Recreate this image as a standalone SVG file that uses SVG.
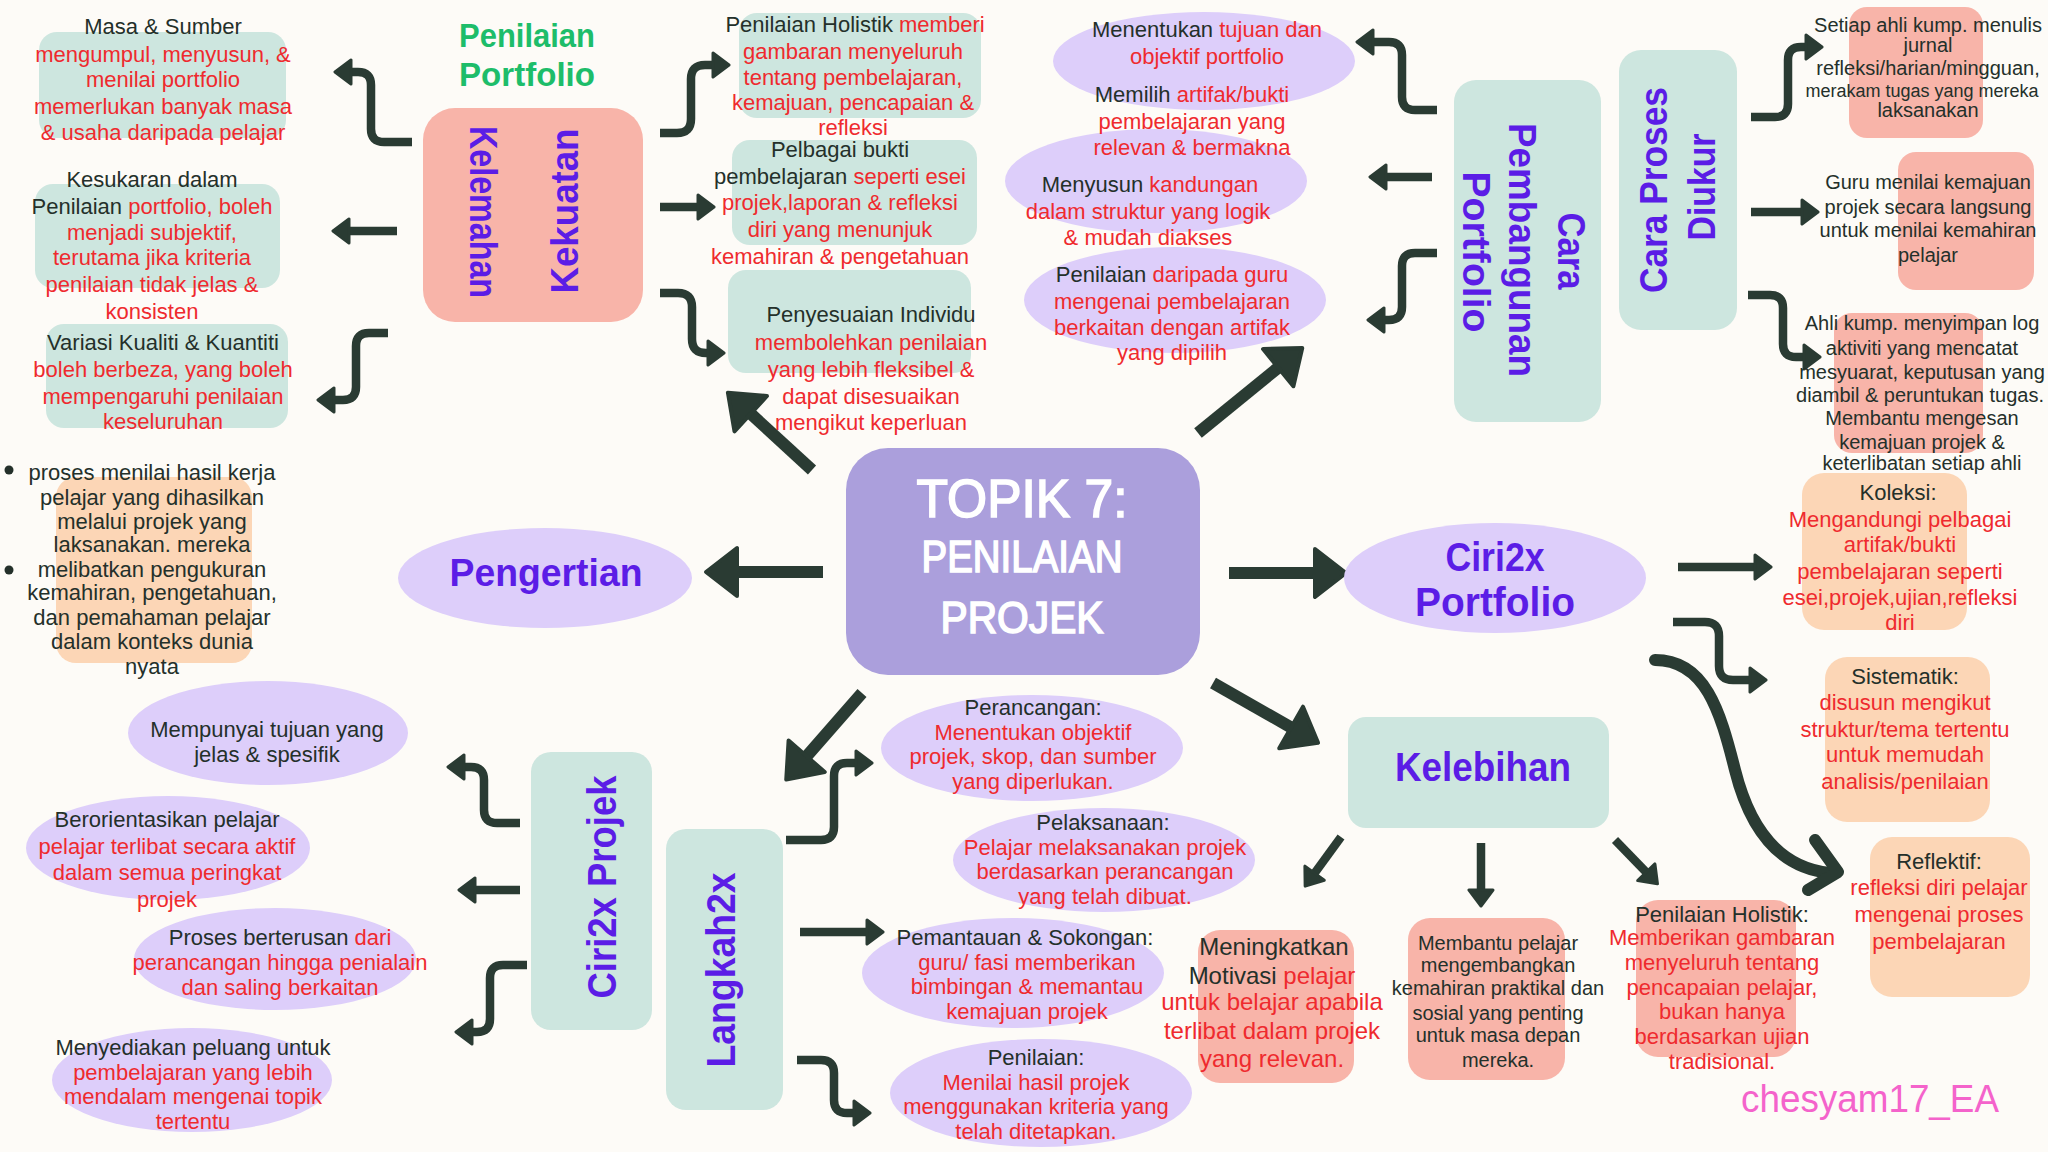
<svg xmlns="http://www.w3.org/2000/svg" width="2048" height="1152" viewBox="0 0 2048 1152">
<defs>
<style>
.t{font-family:"Liberation Sans",Arial,sans-serif;font-size:22px;text-anchor:middle}
.s18{font-size:18px}
.s20{font-size:20px}
.s24{font-size:24px}
.d{fill:#24302A}
.r{fill:#EF2A2E}
.p{font-family:"Liberation Sans",Arial,sans-serif;font-weight:bold;fill:#5B1DE6;text-anchor:middle}
.g{fill:#CDE6DF}
.k{fill:#F8B4A9}
.o{fill:#FCD6B6}
.v{fill:#DDCEFA}
.w{font-family:"Liberation Sans",Arial,sans-serif;fill:#FFFFFF;stroke:#FFFFFF;stroke-width:1.6;text-anchor:middle}
.c{fill:none;stroke:#2A3B33;stroke-width:8.5;stroke-linejoin:round}
.cb{fill:none;stroke:#2A3B33;stroke-width:12;stroke-linejoin:round}
</style>
<marker id="ah" viewBox="0 0 20 28" refX="3" refY="14" markerWidth="20" markerHeight="28" markerUnits="userSpaceOnUse" orient="auto"><path d="M2,2 L18,14 L2,26 Z" fill="#2A3B33" stroke="#2A3B33" stroke-width="3" stroke-linejoin="round"/></marker>
<marker id="ahb" viewBox="0 0 38 54" refX="4" refY="27" markerWidth="38" markerHeight="54" markerUnits="userSpaceOnUse" orient="auto"><path d="M3,3 L34,27 L3,51 Z" fill="#2A3B33" stroke="#2A3B33" stroke-width="4" stroke-linejoin="round"/></marker>
</defs>
<rect x="0" y="0" width="2048" height="1152" fill="#FDFBF7"/>

<g id="connectors">
<path class="c" marker-end="url(#ah)" d="M412,142 H384 Q371,142 371,129 V85 Q371,72 358,72 H350"/>
<path class="c" marker-end="url(#ah)" d="M397,231 H348"/>
<path class="c" marker-end="url(#ah)" d="M388,333 H369 Q356,333 356,346 V387 Q356,400 343,400 H333"/>
<path class="c" marker-end="url(#ah)" d="M660,133 H677 Q691,133 691,119 V79 Q691,65 705,65 H714"/>
<path class="c" marker-end="url(#ah)" d="M660,207 H699"/>
<path class="c" marker-end="url(#ah)" d="M660,293 H678 Q692,293 692,307 V339 Q692,353 706,353 H709"/>
<path class="c" marker-end="url(#ah)" d="M1437,110 H1415 Q1402,110 1402,97 V55 Q1402,42 1389,42 H1372"/>
<path class="c" marker-end="url(#ah)" d="M1432,177 H1385"/>
<path class="c" marker-end="url(#ah)" d="M1437,253 H1415 Q1402,253 1402,266 V307 Q1402,320 1389,320 H1383"/>
<path class="c" marker-end="url(#ah)" d="M1751,117 H1775 Q1788,117 1788,104 V60 Q1788,47 1801,47 H1807"/>
<path class="c" marker-end="url(#ah)" d="M1751,212 H1803"/>
<path class="c" marker-end="url(#ah)" d="M1748,295 H1770 Q1783,295 1783,308 V344 Q1783,357 1796,357 H1805"/>
<path class="c" marker-end="url(#ah)" d="M1678,567 H1756"/>
<path class="c" marker-end="url(#ah)" d="M1673,622 H1705 Q1719,622 1719,636 V666 Q1719,680 1733,680 H1751"/>
<path class="cb" stroke-linecap="round" d="M1655,660 C1705,660 1720,710 1735,770 C1750,830 1780,868 1830,873"/>
<path class="cb" stroke-linecap="round" d="M1815,840 L1838,872 L1808,890"/>
<path class="cb" marker-end="url(#ahb)" d="M823,572 L736,572"/>
<path class="cb" marker-end="url(#ahb)" d="M1229,573 L1316,573"/>
<path class="cb" marker-end="url(#ahb)" d="M812,470 L750,413"/>
<path class="cb" marker-end="url(#ahb)" d="M1198,433 L1279,367"/>
<path class="cb" marker-end="url(#ahb)" d="M862,693 L806,757"/>
<path class="cb" marker-end="url(#ahb)" d="M1213,683 L1292,728"/>
<path class="c" marker-end="url(#ah)" d="M520,823 H497 Q484,823 484,810 V780 Q484,767 471,767 H463"/>
<path class="c" marker-end="url(#ah)" d="M520,890 H474"/>
<path class="c" marker-end="url(#ah)" d="M527,965 H503 Q490,965 490,978 V1019 Q490,1032 477,1032 H471"/>
<path class="c" marker-end="url(#ah)" d="M786,840 H821 Q834,840 834,827 V776 Q834,763 847,763 H857"/>
<path class="c" marker-end="url(#ah)" d="M800,932 H868"/>
<path class="c" marker-end="url(#ah)" d="M797,1060 H821 Q834,1060 834,1073 V1100 Q834,1113 847,1113 H855"/>
<path class="c" marker-end="url(#ah)" d="M1341,837 L1314,874"/>
<path class="c" marker-end="url(#ah)" d="M1481,843 V891"/>
<path class="c" marker-end="url(#ah)" d="M1615,840 L1647,873"/>
</g>

<g id="topik">
<rect x="846" y="448" width="354" height="227" rx="42" fill="#AB9FDC"/>
<text class="w" x="1022" y="517" font-size="54" textLength="211" lengthAdjust="spacingAndGlyphs">TOPIK 7:</text>
<text class="w" x="1022" y="572" font-size="45" textLength="201" lengthAdjust="spacingAndGlyphs">PENILAIAN</text>
<text class="w" x="1022" y="633" font-size="45" textLength="163" lengthAdjust="spacingAndGlyphs">PROJEK</text>
</g>

<g id="pengertian">
<ellipse cx="545" cy="578" rx="147" ry="50" class="v"/>
<text class="p" x="546" y="586" font-size="38" textLength="193" lengthAdjust="spacingAndGlyphs">Pengertian</text>
</g>

<g id="definisi">
<rect x="56" y="477" width="196" height="186" rx="20" class="o"/>
<circle cx="9" cy="470" r="4.5" fill="#24302A"/>
<circle cx="9" cy="570" r="4.5" fill="#24302A"/>
<text class="t d" x="152" y="480">proses menilai hasil kerja</text>
<text class="t d" x="152" y="505">pelajar yang dihasilkan</text>
<text class="t d" x="152" y="529">melalui projek yang</text>
<text class="t d" x="152" y="552">laksanakan. mereka</text>
<text class="t d" x="152" y="577">melibatkan pengukuran</text>
<text class="t d" x="152" y="600">kemahiran, pengetahuan,</text>
<text class="t d" x="152" y="625">dan pemahaman pelajar</text>
<text class="t d" x="152" y="649">dalam konteks dunia</text>
<text class="t d" x="152" y="674">nyata</text>
</g>

<g id="kelemahan-kekuatan">
<rect x="423" y="108" width="220" height="214" rx="32" class="k"/>
<text class="p" font-size="38" transform="translate(483,212) rotate(90)" dy="0.33em" textLength="172" lengthAdjust="spacingAndGlyphs">Kelemahan</text>
<text class="p" font-size="38" transform="translate(565,211) rotate(-90)" dy="0.33em" textLength="165" lengthAdjust="spacingAndGlyphs">Kekuatan</text>
</g>

<g id="judul-portfolio">
<text x="527" y="47" font-family="Liberation Sans,Arial,sans-serif" font-weight="bold" font-size="34" fill="#1DBD6A" text-anchor="middle" textLength="136" lengthAdjust="spacingAndGlyphs">Penilaian</text>
<text x="527" y="86" font-family="Liberation Sans,Arial,sans-serif" font-weight="bold" font-size="34" fill="#1DBD6A" text-anchor="middle" textLength="136" lengthAdjust="spacingAndGlyphs">Portfolio</text>
</g>

<g id="masa-sumber">
<rect x="39" y="32" width="247" height="106" rx="18" class="g"/>
<text class="t d" x="163" y="34">Masa &amp; Sumber</text>
<text class="t r" x="163" y="62">mengumpul, menyusun, &amp;</text>
<text class="t r" x="163" y="87">menilai portfolio</text>
<text class="t r" x="163" y="114">memerlukan banyak masa</text>
<text class="t r" x="163" y="140">&amp; usaha daripada pelajar</text>
</g>

<g id="kesukaran">
<rect x="35" y="184" width="245" height="104" rx="18" class="g"/>
<text class="t d" x="152" y="187">Kesukaran dalam</text>
<text class="t" x="152" y="214"><tspan class="d">Penilaian </tspan><tspan class="r">portfolio, boleh</tspan></text>
<text class="t r" x="152" y="240">menjadi subjektif,</text>
<text class="t r" x="152" y="265">terutama jika kriteria</text>
<text class="t r" x="152" y="292">penilaian tidak jelas &amp;</text>
<text class="t r" x="152" y="319">konsisten</text>
</g>

<g id="variasi">
<rect x="46" y="324" width="242" height="104" rx="18" class="g"/>
<text class="t d" x="163" y="350">Variasi Kualiti &amp; Kuantiti</text>
<text class="t r" x="163" y="377">boleh berbeza, yang boleh</text>
<text class="t r" x="163" y="404">mempengaruhi penilaian</text>
<text class="t r" x="163" y="429">keseluruhan</text>
</g>

<g id="holistik">
<rect x="739" y="13" width="242" height="105" rx="18" class="g"/>
<text class="t" x="855" y="32"><tspan class="d">Penilaian Holistik </tspan><tspan class="r">memberi</tspan></text>
<text class="t r" x="853" y="59">gambaran menyeluruh</text>
<text class="t r" x="853" y="85">tentang pembelajaran,</text>
<text class="t r" x="853" y="110">kemajuan, pencapaian &amp;</text>
<text class="t r" x="853" y="135">refleksi</text>
</g>

<g id="pelbagai-bukti">
<rect x="732" y="140" width="245" height="105" rx="18" class="g"/>
<text class="t d" x="840" y="157">Pelbagai bukti</text>
<text class="t" x="840" y="184"><tspan class="d">pembelajaran </tspan><tspan class="r">seperti esei</tspan></text>
<text class="t r" x="840" y="210">projek,laporan &amp; refleksi</text>
<text class="t r" x="840" y="237">diri yang menunjuk</text>
<text class="t r" x="840" y="264">kemahiran &amp; pengetahuan</text>
<text class="t r" x="840" y="290">pelajar</text>
</g>

<g id="penyesuaian">
<rect x="728" y="270" width="243" height="103" rx="18" class="g"/>
<text class="t d" x="871" y="322">Penyesuaian Individu</text>
<text class="t r" x="871" y="350">membolehkan penilaian</text>
<text class="t r" x="871" y="377">yang lebih fleksibel &amp;</text>
<text class="t r" x="871" y="404">dapat disesuaikan</text>
<text class="t r" x="871" y="430">mengikut keperluan</text>
</g>

<g id="langkah-portfolio">
<ellipse cx="1204" cy="61" rx="151" ry="49" class="v"/>
<ellipse cx="1156" cy="181" rx="151" ry="52" class="v"/>
<ellipse cx="1175" cy="300" rx="151" ry="53" class="v"/>
<text class="t" x="1207" y="37"><tspan class="d">Menentukan </tspan><tspan class="r">tujuan dan</tspan></text>
<text class="t r" x="1207" y="64">objektif portfolio</text>
<text class="t" x="1192" y="102"><tspan class="d">Memilih </tspan><tspan class="r">artifak/bukti</tspan></text>
<text class="t r" x="1192" y="129">pembelajaran yang</text>
<text class="t r" x="1192" y="155">relevan &amp; bermakna</text>
<text class="t" x="1150" y="192"><tspan class="d">Menyusun </tspan><tspan class="r">kandungan</tspan></text>
<text class="t r" x="1148" y="219">dalam struktur yang logik</text>
<text class="t r" x="1148" y="245">&amp; mudah diakses</text>
<text class="t" x="1172" y="282"><tspan class="d">Penilaian </tspan><tspan class="r">daripada guru</tspan></text>
<text class="t r" x="1172" y="309">mengenai pembelajaran</text>
<text class="t r" x="1172" y="335">berkaitan dengan artifak</text>
<text class="t r" x="1172" y="360">yang dipilih</text>
</g>

<g id="cara-pembangunan">
<rect x="1454" y="80" width="147" height="342" rx="22" class="g"/>
<text class="p" font-size="38" transform="translate(1571,251) rotate(90)" dy="0.33em" textLength="77" lengthAdjust="spacingAndGlyphs">Cara</text>
<text class="p" font-size="38" transform="translate(1522,250) rotate(90)" dy="0.33em" textLength="254" lengthAdjust="spacingAndGlyphs">Pembangunan</text>
<text class="p" font-size="38" transform="translate(1476,252) rotate(90)" dy="0.33em" textLength="161" lengthAdjust="spacingAndGlyphs">Portfolio</text>
</g>

<g id="cara-proses">
<rect x="1619" y="50" width="118" height="280" rx="22" class="g"/>
<text class="p" font-size="38" transform="translate(1654,190) rotate(-90)" dy="0.33em" textLength="206" lengthAdjust="spacingAndGlyphs">Cara Proses</text>
<text class="p" font-size="38" transform="translate(1702,187) rotate(-90)" dy="0.33em" textLength="107" lengthAdjust="spacingAndGlyphs">Diukur</text>
</g>

<g id="jurnal">
<rect x="1849" y="7" width="134" height="131" rx="18" class="k"/>
<text class="t s20 d" x="1928" y="32">Setiap ahli kump. menulis</text>
<text class="t s20 d" x="1928" y="52">jurnal</text>
<text class="t s20 d" x="1928" y="75">refleksi/harian/mingguan,</text>
<text class="t s18 d" x="1922" y="97">merakam tugas yang mereka</text>
<text class="t s20 d" x="1928" y="117">laksanakan</text>
</g>

<g id="guru-menilai">
<rect x="1898" y="152" width="136" height="138" rx="18" class="k"/>
<text class="t s20 d" x="1928" y="189">Guru menilai kemajuan</text>
<text class="t s20 d" x="1928" y="214">projek secara langsung</text>
<text class="t s20 d" x="1928" y="237">untuk menilai kemahiran</text>
<text class="t s20 d" x="1928" y="262">pelajar</text>
</g>

<g id="log-aktiviti">
<rect x="1834" y="313" width="149" height="140" rx="18" class="k"/>
<text class="t s20 d" x="1922" y="330">Ahli kump. menyimpan log</text>
<text class="t s20 d" x="1922" y="355">aktiviti yang mencatat</text>
<text class="t s20 d" x="1922" y="379">mesyuarat, keputusan yang</text>
<text class="t s20 d" x="1920" y="402">diambil &amp; peruntukan tugas.</text>
<text class="t s20 d" x="1922" y="425">Membantu mengesan</text>
<text class="t s20 d" x="1922" y="449">kemajuan projek &amp;</text>
<text class="t s20 d" x="1922" y="470">keterlibatan setiap ahli</text>
</g>

<g id="ciri-portfolio">
<ellipse cx="1495" cy="578" rx="151" ry="55" class="v"/>
<text class="p" x="1495" y="571" font-size="40" textLength="99" lengthAdjust="spacingAndGlyphs">Ciri2x</text>
<text class="p" x="1495" y="616" font-size="40" textLength="160" lengthAdjust="spacingAndGlyphs">Portfolio</text>
</g>

<g id="koleksi">
<rect x="1802" y="473" width="165" height="157" rx="22" class="o"/>
<text class="t d" x="1898" y="500">Koleksi:</text>
<text class="t r" x="1900" y="527">Mengandungi pelbagai</text>
<text class="t r" x="1900" y="552">artifak/bukti</text>
<text class="t r" x="1900" y="579">pembelajaran seperti</text>
<text class="t r" x="1900" y="605">esei,projek,ujian,refleksi</text>
<text class="t r" x="1900" y="630">diri</text>
</g>

<g id="sistematik">
<rect x="1825" y="657" width="165" height="165" rx="22" class="o"/>
<text class="t d" x="1905" y="684">Sistematik:</text>
<text class="t r" x="1905" y="710">disusun mengikut</text>
<text class="t r" x="1905" y="737">struktur/tema tertentu</text>
<text class="t r" x="1905" y="762">untuk memudah</text>
<text class="t r" x="1905" y="789">analisis/penilaian</text>
</g>

<g id="reflektif">
<rect x="1870" y="837" width="160" height="160" rx="22" class="o"/>
<text class="t d" x="1939" y="869">Reflektif:</text>
<text class="t r" x="1939" y="895">refleksi diri pelajar</text>
<text class="t r" x="1939" y="922">mengenai proses</text>
<text class="t r" x="1939" y="949">pembelajaran</text>
</g>

<g id="kelebihan">
<rect x="1348" y="717" width="261" height="111" rx="18" class="g"/>
<text class="p" x="1483" y="781" font-size="40" textLength="176" lengthAdjust="spacingAndGlyphs">Kelebihan</text>
</g>

<g id="motivasi">
<rect x="1198" y="930" width="156" height="153" rx="22" class="k"/>
<text class="t s24 d" x="1274" y="955">Meningkatkan</text>
<text class="t s24" x="1272" y="984"><tspan class="d">Motivasi </tspan><tspan class="r">pelajar</tspan></text>
<text class="t s24 r" x="1272" y="1010">untuk belajar apabila</text>
<text class="t s24 r" x="1272" y="1039">terlibat dalam projek</text>
<text class="t s24 r" x="1272" y="1067">yang relevan.</text>
</g>

<g id="kemahiran">
<rect x="1408" y="918" width="157" height="162" rx="22" class="k"/>
<text class="t s20 d" x="1498" y="950">Membantu pelajar</text>
<text class="t s20 d" x="1498" y="972">mengembangkan</text>
<text class="t s20 d" x="1498" y="995">kemahiran praktikal dan</text>
<text class="t s20 d" x="1498" y="1020">sosial yang penting</text>
<text class="t s20 d" x="1498" y="1042">untuk masa depan</text>
<text class="t s20 d" x="1498" y="1067">mereka.</text>
</g>

<g id="penilaian-holistik">
<rect x="1636" y="900" width="160" height="157" rx="22" class="k"/>
<text class="t d" x="1722" y="922">Penilaian Holistik:</text>
<text class="t r" x="1722" y="945">Memberikan gambaran</text>
<text class="t r" x="1722" y="970">menyeluruh tentang</text>
<text class="t r" x="1722" y="995">pencapaian pelajar,</text>
<text class="t r" x="1722" y="1019">bukan hanya</text>
<text class="t r" x="1722" y="1044">berdasarkan ujian</text>
<text class="t r" x="1722" y="1069">tradisional.</text>
</g>

<g id="ciri-projek">
<rect x="531" y="752" width="121" height="278" rx="20" class="g"/>
<text class="p" font-size="40" transform="translate(603,887) rotate(-90)" dy="0.33em" textLength="223" lengthAdjust="spacingAndGlyphs">Ciri2x Projek</text>
</g>

<g id="langkah">
<rect x="666" y="829" width="117" height="281" rx="20" class="g"/>
<text class="p" font-size="40" transform="translate(722,970) rotate(-90)" dy="0.33em" textLength="195" lengthAdjust="spacingAndGlyphs">Langkah2x</text>
</g>

<g id="tujuan">
<ellipse cx="268" cy="733" rx="140" ry="52" class="v"/>
<text class="t d" x="267" y="737">Mempunyai tujuan yang</text>
<text class="t d" x="267" y="762">jelas &amp; spesifik</text>
</g>

<g id="berorientasi">
<ellipse cx="168" cy="848" rx="142" ry="52" class="v"/>
<text class="t d" x="167" y="827">Berorientasikan pelajar</text>
<text class="t r" x="167" y="854">pelajar terlibat secara aktif</text>
<text class="t r" x="167" y="880">dalam semua peringkat</text>
<text class="t r" x="167" y="907">projek</text>
</g>

<g id="berterusan">
<ellipse cx="275" cy="959" rx="141" ry="51" class="v"/>
<text class="t" x="280" y="945"><tspan class="d">Proses berterusan </tspan><tspan class="r">dari</tspan></text>
<text class="t r" x="280" y="970">perancangan hingga penialain</text>
<text class="t r" x="280" y="995">dan saling berkaitan</text>
</g>

<g id="peluang">
<ellipse cx="192" cy="1080" rx="140" ry="52" class="v"/>
<text class="t d" x="193" y="1055">Menyediakan peluang untuk</text>
<text class="t r" x="193" y="1080">pembelajaran yang lebih</text>
<text class="t r" x="193" y="1104">mendalam mengenai topik</text>
<text class="t r" x="193" y="1129">tertentu</text>
</g>

<g id="perancangan">
<ellipse cx="1032" cy="748" rx="151" ry="53" class="v"/>
<text class="t d" x="1033" y="715">Perancangan:</text>
<text class="t r" x="1033" y="740">Menentukan objektif</text>
<text class="t r" x="1033" y="764">projek, skop, dan sumber</text>
<text class="t r" x="1033" y="789">yang diperlukan.</text>
</g>

<g id="pelaksanaan">
<ellipse cx="1104" cy="860" rx="151" ry="52" class="v"/>
<text class="t d" x="1103" y="830">Pelaksanaan:</text>
<text class="t r" x="1105" y="855">Pelajar melaksanakan projek</text>
<text class="t r" x="1105" y="879">berdasarkan perancangan</text>
<text class="t r" x="1105" y="904">yang telah dibuat.</text>
</g>

<g id="pemantauan">
<ellipse cx="1013" cy="973" rx="151" ry="55" class="v"/>
<text class="t d" x="1025" y="945">Pemantauan &amp; Sokongan:</text>
<text class="t r" x="1027" y="970">guru/ fasi memberikan</text>
<text class="t r" x="1027" y="994">bimbingan &amp; memantau</text>
<text class="t r" x="1027" y="1019">kemajuan projek</text>
</g>

<g id="penilaian-langkah">
<ellipse cx="1041" cy="1093" rx="151" ry="54" class="v"/>
<text class="t d" x="1036" y="1065">Penilaian:</text>
<text class="t r" x="1036" y="1090">Menilai hasil projek</text>
<text class="t r" x="1036" y="1114">menggunakan kriteria yang</text>
<text class="t r" x="1036" y="1139">telah ditetapkan.</text>
</g>

<g id="signature">
<text x="1870" y="1112" font-family="Liberation Sans,Arial,sans-serif" font-size="38" fill="#F463CB" text-anchor="middle" textLength="258" lengthAdjust="spacingAndGlyphs">chesyam17_EA</text>
</g>
</svg>
